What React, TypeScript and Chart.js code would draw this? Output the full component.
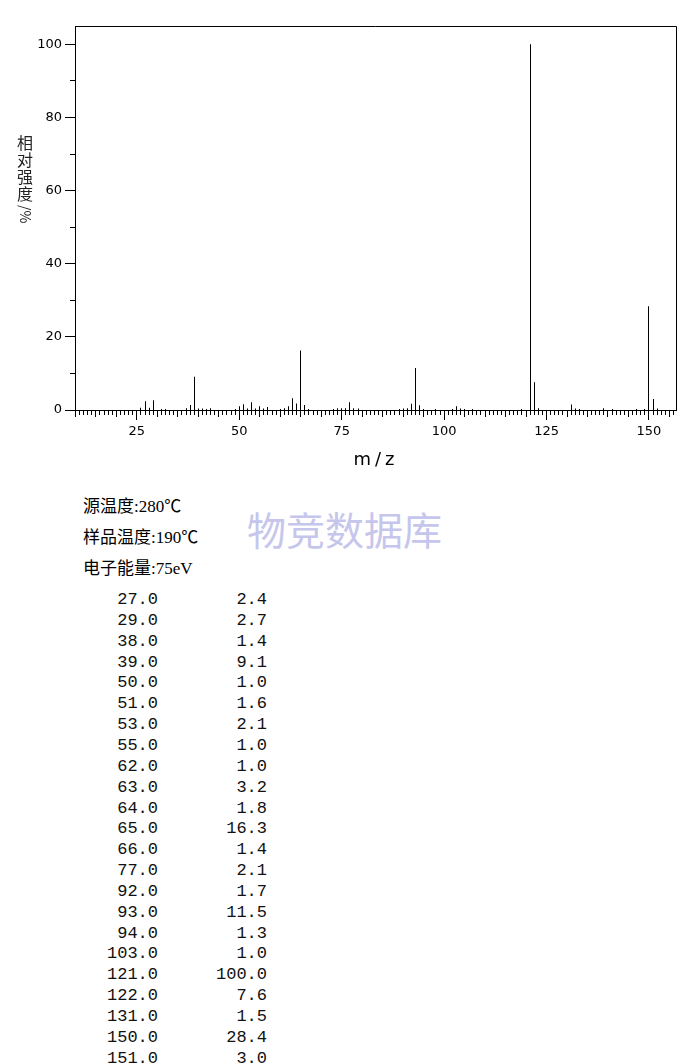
import React, { useEffect, useRef } from 'react';
import { Chart, registerables } from 'chart.js';

Chart.register(...registerables);

// ---- data ----
const MZ = [
  26, 27, 28, 29, 31, 32, 37, 38, 39, 40, 41, 42, 43, 49, 50, 51, 52, 53, 54, 55, 56, 57,
  60, 61, 62, 63, 64, 65, 66, 67, 73, 74, 75, 76, 77, 78, 79, 89, 90, 91, 92, 93, 94, 95,
  98, 102, 103, 104, 105, 107, 119, 121, 122, 123, 131, 132, 133, 139, 141, 147, 149, 150, 151, 152,
];
const INTENSITY = [
  0.6, 2.4, 0.6, 2.7, 0.3, 0.3, 0.5, 1.4, 9.1, 0.4, 0.4, 0.3, 0.5, 0.3, 1.0, 1.6, 0.4, 2.1, 0.4, 1.0, 0.4, 0.8,
  0.3, 0.5, 1.0, 3.2, 1.8, 16.3, 1.4, 0.3, 0.3, 0.5, 0.5, 0.5, 2.1, 0.5, 0.4, 0.3, 0.4, 0.5, 1.7, 11.5, 1.3, 0.3,
  0.3, 0.3, 1.0, 0.4, 0.3, 0.3, 0.3, 100.0, 7.6, 0.5, 1.5, 0.4, 0.3, 0.5, 0.3, 0.3, 0.3, 28.4, 3.0, 0.4,
];
const TABLE_MZ = [27, 29, 38, 39, 50, 51, 53, 55, 62, 63, 64, 65, 66, 77, 92, 93, 94, 103, 121, 122, 131, 150, 151];
const TABLE_INT = [2.4, 2.7, 1.4, 9.1, 1.0, 1.6, 2.1, 1.0, 1.0, 3.2, 1.8, 16.3, 1.4, 2.1, 1.7, 11.5, 1.3, 1.0, 100.0, 7.6, 1.5, 28.4, 3.0];
const X_TICKS = [25, 50, 75, 100, 125, 150];
const Y_TICKS = [0, 20, 40, 60, 80, 100];
const Y_MINOR = [10, 30, 50, 70, 90];
const X_MIN = 9.9;
const X_MAX = 156.6;
const Y_MAX = 105;
const X_TITLE = 'm/z';
const Y_TITLE_CJK = '相对强度';
const Y_TITLE_UNIT = '/%';
const INFO_LINES = ['源温度:280℃', '样品温度:190℃', '电子能量:75eV'];
const WATERMARK = '物竞数据库';

const decorPlugin = {
  id: 'decor',
  beforeDatasetsDraw(chart: any) {
    const meta = chart.getDatasetMeta(0);
    meta.data.forEach((el: any) => {
      el.x = Math.floor(el.x) + 0.5;
    });
  },
  afterDraw(chart: any) {
    const { ctx, chartArea: a, scales } = chart;
    const x = scales.x;
    const y = scales.y;
    ctx.save();
    ctx.strokeStyle = '#000';
    ctx.lineWidth = 1;
    ctx.beginPath();
    ctx.moveTo(a.left, Math.floor(a.top) + 0.5);
    ctx.lineTo(Math.floor(a.right) + 0.5, Math.floor(a.top) + 0.5);
    ctx.lineTo(Math.floor(a.right) + 0.5, a.bottom);
    for (let v = Math.ceil(x.min); v <= x.max; v++) {
      const px = Math.floor(x.getPixelForValue(v)) + 0.5;
      const len = v % 25 === 0 ? 10 : v % 5 === 0 ? 7 : 5;
      ctx.moveTo(px, a.bottom);
      ctx.lineTo(px, a.bottom + len);
    }
    [...Y_TICKS, ...Y_MINOR].forEach((v) => {
      const py = Math.floor(y.getPixelForValue(v)) + 0.5;
      const len = Y_TICKS.includes(v) ? 10 : 5;
      ctx.moveTo(a.left - len, py);
      ctx.lineTo(a.left, py);
    });
    ctx.stroke();

    // x title
    ctx.fillStyle = '#000';
    ctx.font = '18px "DejaVu Sans"';
    (ctx as any).letterSpacing = '4px';
    ctx.textAlign = 'center';
    ctx.textBaseline = 'alphabetic';
    ctx.fillText(X_TITLE, 376, 465);
    (ctx as any).letterSpacing = '0px';

    // y title (vertical, stacked)
    ctx.fillStyle = '#222';
    ctx.font = '16px "Noto Sans CJK SC"';
    ctx.textAlign = 'center';
    ctx.textBaseline = 'middle';
    Array.from(Y_TITLE_CJK).forEach((ch, i) => {
      ctx.fillText(ch, 25, 143 + i * 17);
    });
    ctx.translate(25, 205);
    ctx.rotate(Math.PI / 2);
    ctx.font = '14px "Noto Sans CJK SC"';
    ctx.textAlign = 'left';
    ctx.fillText(Y_TITLE_UNIT, 0, 0);
    ctx.restore();
  },
};

function SpectrumChart() {
  const ref = useRef<HTMLCanvasElement | null>(null);
  useEffect(() => {
    if (!ref.current) return;
    const chart = new Chart(ref.current, {
      type: 'bar',
      data: {
        datasets: [
          {
            data: MZ.map((m, i) => ({ x: m, y: INTENSITY[i] })),
            backgroundColor: '#000',
            borderWidth: 0,
            barThickness: 1,
            inflateAmount: 0,
          } as any,
        ],
      },
      options: {
        animation: false,
        responsive: false,
        devicePixelRatio: 1,
        layout: { padding: { left: 0, right: 11, top: 26, bottom: 0 } },
        plugins: {
          legend: { display: false },
          tooltip: { enabled: false },
          title: { display: false },
        },
        scales: {
          x: {
            type: 'linear',
            offset: false,
            min: X_MIN,
            max: X_MAX,
            afterBuildTicks: (s: any) => {
              s.ticks = X_TICKS.map((v) => ({ value: v }));
            },
            afterFit: (s: any) => {
              s.height = 60;
            },
            grid: { display: false, drawTicks: false, offset: false },
            border: { display: true, color: '#000', width: 1 },
            ticks: {
              padding: 14,
              color: '#000',
              font: { family: 'DejaVu Sans', size: 13 },
              maxRotation: 0,
              autoSkip: false,
            },
          },
          y: {
            type: 'linear',
            min: 0,
            max: Y_MAX,
            afterBuildTicks: (s: any) => {
              s.ticks = Y_TICKS.map((v) => ({ value: v }));
            },
            afterFit: (s: any) => {
              s.width = 75;
            },
            grid: { display: false, drawTicks: false },
            border: { display: true, color: '#000', width: 1 },
            ticks: {
              padding: 13,
              color: '#000',
              font: { family: 'DejaVu Sans', size: 13 },
              autoSkip: false,
            },
          },
        },
      } as any,
      plugins: [decorPlugin],
    });
    return () => chart.destroy();
  }, []);
  return <canvas ref={ref} width={687} height={470} style={{ position: 'absolute', left: 0, top: 0, width: 687, height: 470 }} />;
}

export default function App() {
  return (
    <div style={{ position: 'absolute', left: 0, top: 0, width: 687, height: 1064, background: '#fff', overflow: 'hidden' }}>
      <SpectrumChart />
      {INFO_LINES.map((t, i) => (
        <div
          key={t}
          style={{
            position: 'absolute',
            left: 83,
            top: 498 + i * 31,
            font: '17px "Liberation Serif", "Noto Sans CJK SC"',
            lineHeight: '17px',
            whiteSpace: 'nowrap',
            color: '#000',
          }}
        >
          {t}
        </div>
      ))}
      <div
        style={{
          position: 'absolute',
          left: 247,
          top: 509,
          font: '39px "Noto Sans CJK SC"',
          lineHeight: '39px',
          color: '#c6c6ec',
          whiteSpace: 'nowrap',
        }}
      >
        {WATERMARK}
      </div>
      {TABLE_MZ.map((m, i) => (
        <div
          key={m}
          style={{
            position: 'absolute',
            left: 0,
            top: 590 + i * 20.85,
            width: 300,
            height: 21,
            font: '17px "Liberation Mono"',
            lineHeight: '20.85px',
            color: '#111',
            whiteSpace: 'pre',
          }}
        >
          <span style={{ position: 'absolute', left: 0, width: 158, textAlign: 'right' }}>{m.toFixed(1)}</span>
          <span style={{ position: 'absolute', left: 0, width: 267, textAlign: 'right' }}>{TABLE_INT[i].toFixed(1)}</span>
        </div>
      ))}
    </div>
  );
}
